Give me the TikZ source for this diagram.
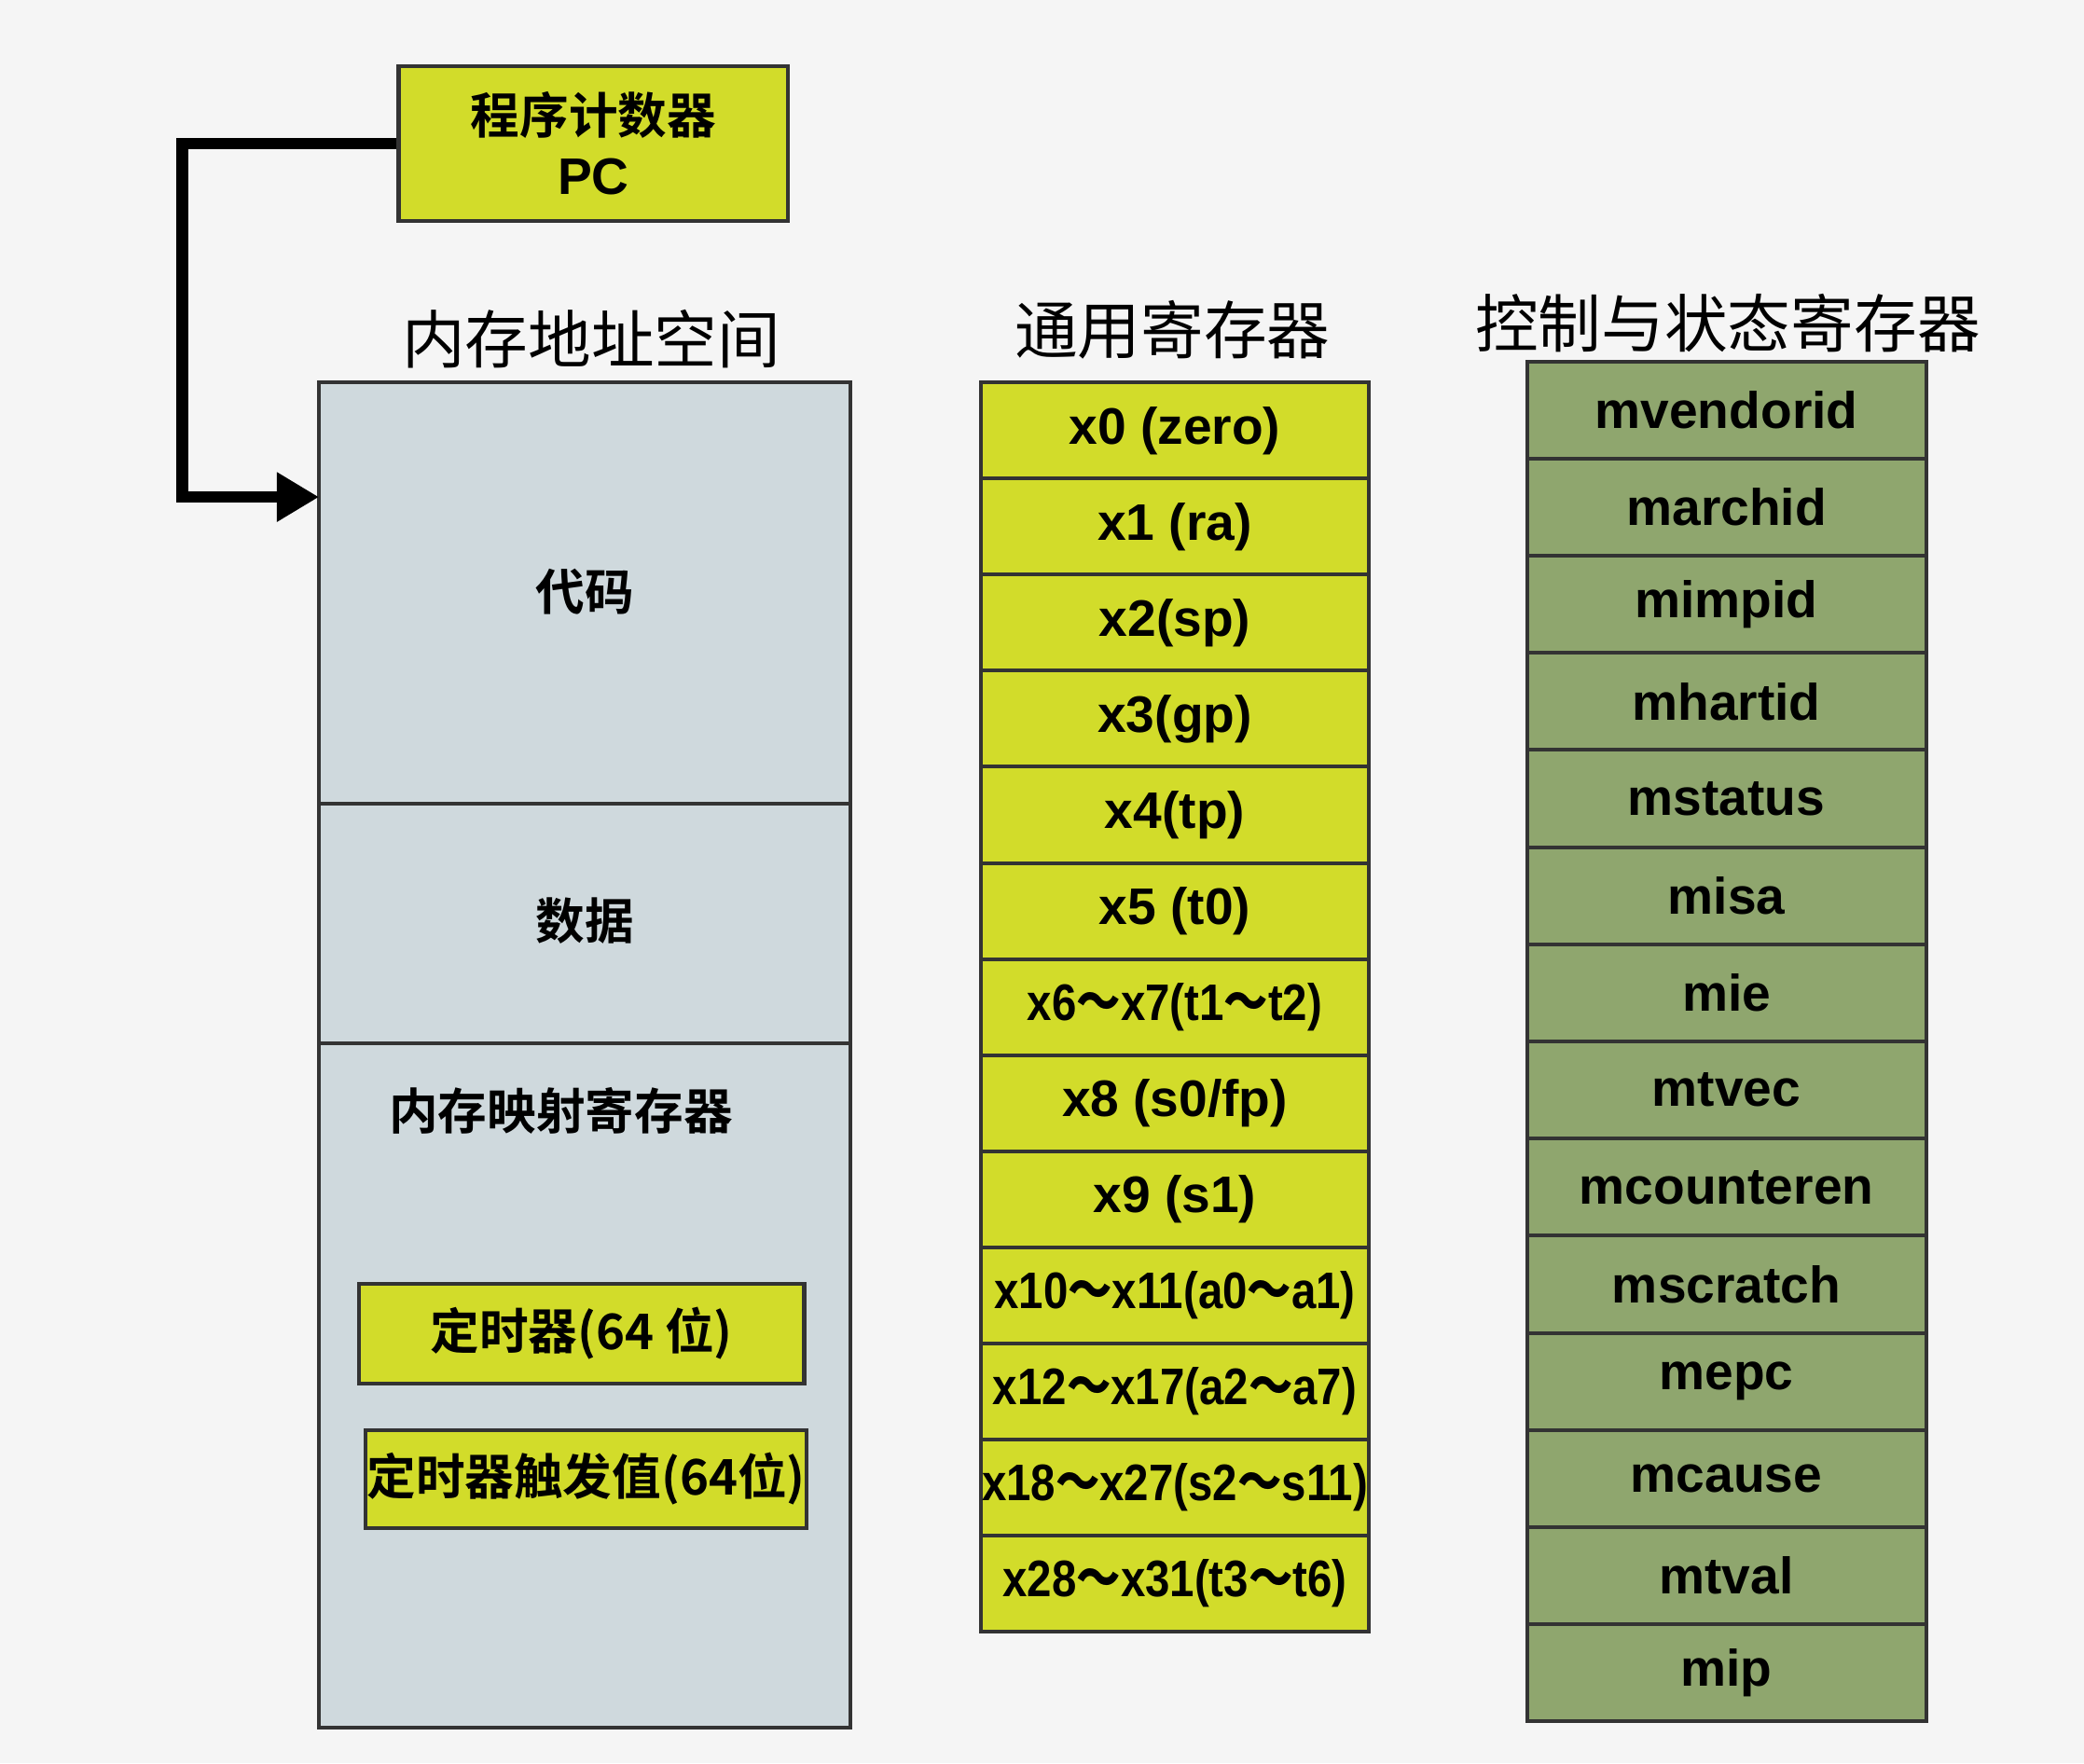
\documentclass[tikz,border=0pt]{standalone}
\usepackage{fontspec}
\usepackage{graphicx}
\setmainfont{Liberation Sans}
\newfontfamily\cjk{Noto Sans CJK SC}
\newfontfamily\cjkb{Noto Sans CJK SC Bold}
\usetikzlibrary{arrows.meta}
\definecolor{yel}{HTML}{D2DC2A}
\definecolor{memc}{HTML}{CFD9DD}
\definecolor{grn}{HTML}{8FA66E}
\newcommand{\sqz}[1]{\scalebox{0.86}[1]{#1}}
\newcommand{\tld}{{\cjk ～}}
\tikzset{x=0.01cm,y=-0.01cm,
 cell/.style={draw=black!80,line width=0.8pt,inner sep=0pt},
 lab/.style={font=\fontsize{11}{13}\selectfont\bfseries},
 clab/.style={font=\fontsize{10.5}{13}\selectfont\cjkb},
 ttl/.style={font=\fontsize{13.5}{16}\selectfont\cjk}}
\begin{document}
\begin{tikzpicture}
\fill[white!96!black] (0,0) rectangle (1568,1327);
\useasboundingbox (0,0) rectangle (1568,1327);
% PC
\node[cell,fill=yel,minimum width=2.93cm,minimum height=1.16cm,align=center,clab] (pc) at (446.5,108) {程序计数器\\{\bfseries\rmfamily\fontsize{11}{13}\selectfont PC}};
% memory
\node[cell,fill=memc,minimum width=4cm,minimum height=3.17cm] (code) at (440,446.5) {};
\node[cell,fill=memc,minimum width=4cm,minimum height=1.8cm] (data) at (440,695) {};
\node[cell,fill=memc,minimum width=4cm,minimum height=5.15cm] (mmr) at (440,1042.5) {};
\node[clab] (codel) at (440,445) {代码};
\node[clab] (datal) at (440,693) {数据};
\node[clab] (mmrl) at (422,836) {内存映射寄存器};
\node[cell,fill=yel,minimum width=3.35cm,minimum height=0.75cm,clab] (t1) at (437.5,1003.5) {定时器(64 位)};
\node[cell,fill=yel,minimum width=3.32cm,minimum height=0.74cm,clab] (t2) at (441,1113) {定时器触发值(64位)};
\node[ttl] (mt) at (445,255) {内存地址空间};
\node[ttl] (gt) at (882,248) {通用寄存器};
\node[ttl] (ct) at (1300,243) {控制与状态寄存器};
\coordinate (ain) at (240,374);
\draw[line width=2.5pt,-{Triangle[length=9pt,width=10pt]}] (pc.west) -- (137,108) -- (137,374) -- (ain);
% GPR
\foreach \t [count=\i from 0] in {x0 (zero),x1 (ra),x2(sp),x3(gp),x4(tp),x5 (t0),\sqz{x6\tld x7(t1\tld t2)},x8 (s0/fp),x9 (s1),\sqz{x10\tld x11(a0\tld a1)},\sqz{x12\tld x17(a2\tld a7)},\sqz{x18\tld x27(s2\tld s11)},\sqz{x28\tld x31(t3\tld t6)}}
  \node[cell,fill=yel,minimum width=2.92cm,minimum height=0.723cm,lab] (g\i) at (884,{324+72.3*\i}) {\t};
% CSR
\foreach \t [count=\i from 0] in {mvendorid,marchid,mimpid,mhartid,mstatus,misa,mie,mtvec,mcounteren,mscratch,mepc,mcause,mtval,mip}
  \node[cell,fill=grn,minimum width=3.0cm,minimum height=0.731cm,lab] (c\i) at (1299,{308.5+73.1*\i}) {\t};
\end{tikzpicture}
\end{document}
